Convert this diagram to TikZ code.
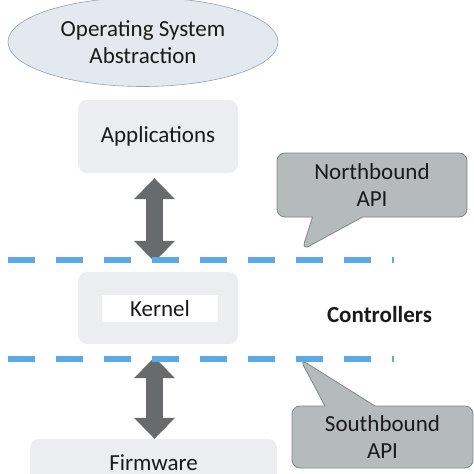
\documentclass[tikz,border=0pt]{standalone}
\usepackage{fontspec}
\setmainfont{Carlito}
\usepackage{tikz}
\usetikzlibrary{arrows.meta,shapes.geometric,shapes.callouts}

\definecolor{boxgray}{HTML}{EBEDEE}
\definecolor{ellipsefill}{HTML}{E4E9EF}
\definecolor{ellipseedge}{HTML}{8FA3BB}
\definecolor{arrowgray}{HTML}{676B6B}
\definecolor{dashblue}{HTML}{5AAAE8}
\definecolor{calloutgray}{HTML}{B5BABA}
\definecolor{calloutedge}{HTML}{7D8787}
\definecolor{textblack}{HTML}{1A1A1A}

\begin{document}
\begin{tikzpicture}[x=1pt,y=-1pt,font=\fontsize{23}{27.5}\selectfont,
                    text=textblack]
  \tikzstyle{layer}=[rectangle,rounded corners=9pt,fill=boxgray,inner sep=0pt]
  \tikzstyle{fat arrow}=[draw=arrowgray,line width=17pt,
      {Triangle[width=41pt,length=21pt,line width=0pt]}-{Triangle[width=41pt,length=21pt,line width=0pt]}]
  \tikzstyle{separator}=[draw=dashblue,line width=6pt,dash pattern=on 27pt off 21pt]
  \tikzstyle{api}=[rectangle callout,rounded corners=8pt,fill=calloutgray,draw=calloutedge,
      line width=0.8pt,align=center,inner sep=0pt,callout pointer width=50pt]

  \useasboundingbox (0,0) rectangle (474,474);
  \clip (0,0) rectangle (474,474);

  \coordinate (axis) at (154.5,0);

  \node[ellipse,draw=ellipseedge,fill=ellipsefill,line width=0.6pt,minimum width=270pt,
        minimum height=89pt,inner sep=0pt,align=center] (os) at (143,42) {Operating System\\Abstraction};
  \node[layer,minimum width=160pt,minimum height=73pt] (app)  at (158,136.5) {Applications};
  \node[layer,minimum width=160pt,minimum height=72pt] (kern) at (158,308)   {};
  \node[fill=white,minimum width=116pt,minimum height=27pt,inner sep=0pt] (kerntext) at (160,308.5) {Kernel};
  \node[layer,minimum width=247pt,minimum height=48pt] (fw)   at (153.5,463) {Firmware};
  \node[font=\fontsize{23}{27.5}\selectfont\bfseries] (ctrl) at (379.5,315) {Controllers};

  \draw[fat arrow,shorten <=5pt,shorten >=10pt] (app.south -| axis) -- (kern.north -| axis);
  \draw[fat arrow,shorten <=13pt,shorten >=0pt] (kern.south -| axis) -- (fw.north -| axis);

  % layer borders
  \coordinate (nl) at (8,259.5);   \coordinate (nr) at (394,259.5);
  \coordinate (sl) at (8,358.5);   \coordinate (sr) at (394,358.5);
  \draw[separator] (nl) -- (nr);
  \draw[separator] (sl) -- (sr);

  \coordinate (ntip) at (302,250);
  \coordinate (stip) at (300,359);
  \node[api,minimum width=190pt,minimum height=64pt,callout absolute pointer=(ntip)] (north) at (372,185)   {Northbound\\API};
  \node[api,minimum width=181pt,minimum height=62pt,callout absolute pointer=(stip)] (south) at (382.5,437) {Southbound\\API};
\end{tikzpicture}
\end{document}
